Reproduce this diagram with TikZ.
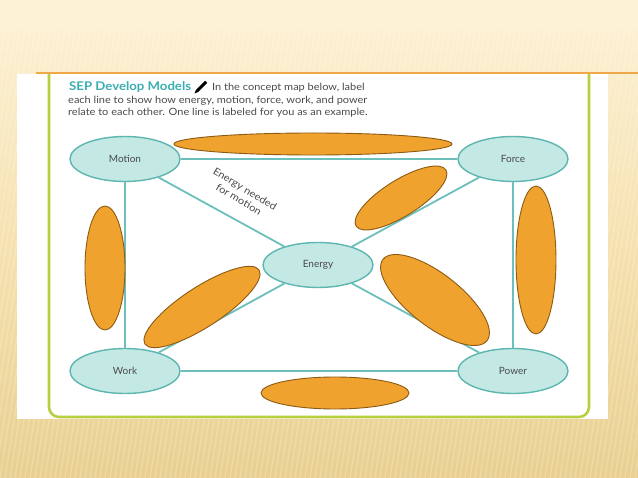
\documentclass[tikz,border=0pt]{standalone}
\usepackage{fontspec}
\setmainfont{Lato}
\newfontfamily\bodyfont[FakeStretch=1.1]{Lato}
\usetikzlibrary{shapes.geometric}
\definecolor{bgtop}{HTML}{FDF2D6}
\definecolor{bgmid}{HTML}{F6E2B0}
\definecolor{bgbot}{HTML}{E9CF90}
\definecolor{greenframe}{HTML}{B8D040}
\definecolor{orangeline}{HTML}{F0A84A}
\definecolor{septeal}{HTML}{3AAEB2}
\definecolor{textgrey}{HTML}{4A4A4A}
\definecolor{tealline}{HTML}{6CBFBA}
\definecolor{tealdark}{HTML}{5DB6B0}
\definecolor{teallight}{HTML}{C4E8E4}
\definecolor{blobfill}{HTML}{F0A22E}
\definecolor{blobdraw}{HTML}{8C5A14}
\begin{document}
\begin{tikzpicture}[x=1pt,y=-1pt,
  concept/.style={ellipse, draw=tealdark, fill=teallight, line width=1.4pt,
    minimum width=110pt, minimum height=45pt, inner sep=0pt,
    font=\fontsize{10}{12}\selectfont, text=textgrey},
  link/.style={draw=tealline, line width=1.8pt},
  blob/.style={ellipse, draw=blobdraw, fill=blobfill, line width=0.9pt, inner sep=0pt},
  bodytext/.style={anchor=base west, inner sep=0pt, font=\bodyfont\fontsize{10}{12}\selectfont, text=textgrey}]
\useasboundingbox (0,0) rectangle (638,478);
% background
\shade[top color=bgtop, bottom color=bgbot, middle color=bgmid] (0,0) rectangle (638,478);
\fill[bgtop] (0,0) rectangle (638,30);
\begin{scope}
  \clip (0,30) rectangle (638,478);
  \foreach \i in {-200,-195,...,660} {
    \draw[white, opacity=0.22, line width=1.3pt] (\i,478) -- (\i+70,30);
  }
\end{scope}
% white panel
\fill[white] (17,74) rectangle (608,419);
\begin{scope}
  \clip (17,75) rectangle (608,419);
  \draw[greenframe, line width=2.6pt, rounded corners=10pt] (49,64) rectangle (589,417);
\end{scope}
\draw[orangeline, line width=1.3pt] (36,73) -- (638,73);
% heading text
\node[bodytext, font=\bodyfont\fontsize{12}{14}\selectfont\bfseries, text=septeal] (title) at (69,91) {SEP Develop Models};
\fill[black, rotate around={45:(202,86)}] (195,84.5) -- (208,84.5) -- (208,87.5) -- (195,87.5) -- (191.5,86) -- cycle;
\node[bodytext] (l1) at (212,91) {In the concept map below, label};
\node[bodytext] (l2) at (68,103.5) {each line to show how energy, motion, force, work, and power};
\node[bodytext] (l3) at (68,115.5) {relate to each other. One line is labeled for you as an example.};
% concepts
\node[concept] (motion) at (125,159) {Motion};
\node[concept] (force) at (513,159) {Force};
\node[concept] (energy) at (318,265) {Energy};
\node[concept] (work) at (125,371) {Work};
\node[concept] (power) at (513,371) {Power};
% links
\draw[link] (motion) -- (force);
\draw[link] (motion) -- (work);
\draw[link] (force) -- (power);
\draw[link] (work) -- (power);
\draw[link] (motion) -- (energy);
\draw[link] (force) -- (energy);
\draw[link] (work) -- (energy);
\draw[link] (power) -- (energy);
\node[rotate=-31, align=center, inner sep=0pt, text=textgrey,
  font=\bodyfont\fontsize{10}{12}\selectfont] (example) at (242,194) {Energy needed\\for motion};
% covering blobs
\node[blob, minimum width=278pt, minimum height=22pt] (btop) at (313,144) {};
\node[blob, minimum width=106pt, minimum height=36pt, rotate=32] (bur) at (401,198) {};
\node[blob, minimum width=40pt, minimum height=124pt] (bleft) at (105,268) {};
\node[blob, minimum width=136pt, minimum height=40pt, rotate=33] (bll) at (202,307) {};
\node[blob, minimum width=132pt, minimum height=52pt, rotate=-38] (blr) at (435,300) {};
\node[blob, minimum width=40pt, minimum height=148pt] (bright) at (536,260) {};
\node[blob, minimum width=148pt, minimum height=32pt] (bbot) at (335,393) {};
\end{tikzpicture}
\end{document}
